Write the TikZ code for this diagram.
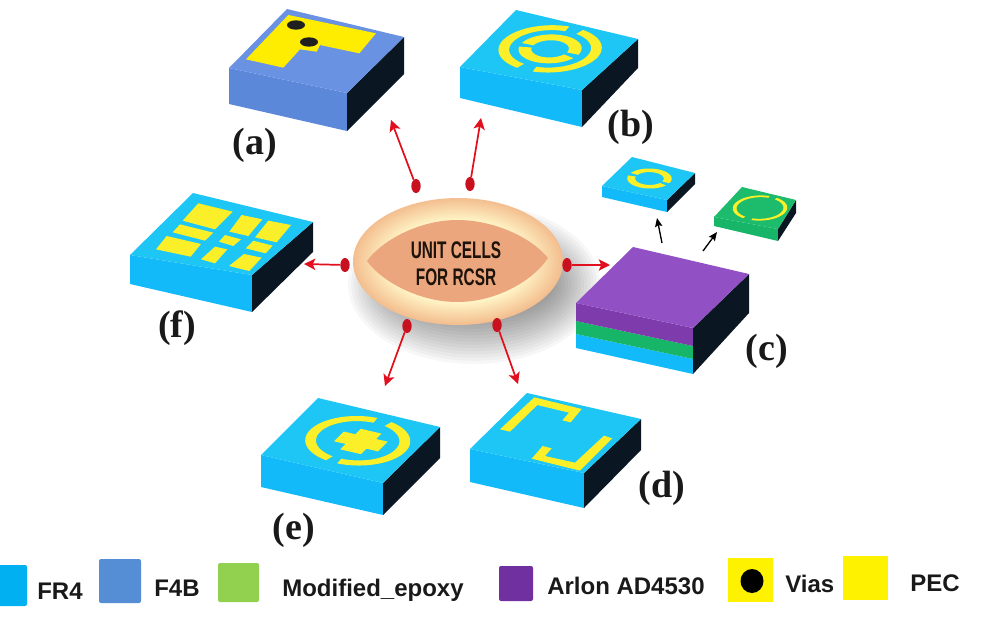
\documentclass[tikz,border=0pt]{standalone}
\usepackage{fontspec}
\setmainfont{Liberation Serif}
\setsansfont{Liberation Sans}
\usetikzlibrary{arrows.meta,shapes.geometric}
\definecolor{frtop}{HTML}{1EC6F5}
\definecolor{frfront}{HTML}{12BAFA}
\definecolor{fbtop}{HTML}{6A92E2}
\definecolor{fbfront}{HTML}{5C88DA}
\definecolor{sidedark}{HTML}{0A1722}
\definecolor{pec}{HTML}{FBEF2A}
\definecolor{purptop}{HTML}{9150C4}
\definecolor{purpfront}{HTML}{7E3BAB}
\definecolor{greentop}{HTML}{1DBB6C}
\definecolor{greenfront}{HTML}{16B568}
\definecolor{lens}{HTML}{EBA67E}
\definecolor{ringcream}{HTML}{FFF2C4}
\definecolor{ringedge}{HTML}{F3BF90}
\definecolor{redline}{HTML}{E2101E}
\definecolor{reddot}{HTML}{C8101E}
\definecolor{legfr}{HTML}{00B0F0}
\definecolor{legfb}{HTML}{558ED5}
\definecolor{leggr}{HTML}{92D050}
\definecolor{legpu}{HTML}{7030A0}
\tikzset{
  zs/.style 2 args={shift={(#1,#2)},x=.25pt,y=-.25pt},
  redarrow/.style={draw=redline,line width=1.3pt,-{Stealth[length=8.5pt,width=8.5pt,inset=2pt]}},
  blackarrow/.style={draw=black,line width=1pt,-{Stealth[length=6.5pt,width=5.5pt,inset=1pt]}},
  reddotv/.style={shape=ellipse,fill=reddot,inner sep=0pt,minimum width=7pt,minimum height=10.5pt},
  lbl/.style={font=\bfseries\fontsize{28.5}{30}\selectfont,inner sep=0pt,text=black!90},
  legtext/.style={font=\sffamily\bfseries\fontsize{18}{20}\selectfont,inner sep=0pt,anchor=base west,text=black!90},
  legbox/.style={rounded corners=1.5pt},
}
% top colour, front colour, then L F B R Lb Fb Rb as (x,y)
\newcommand{\cellbox}[9]{%
  \fill[#2] #3 -- #4 -- #8 -- #7 -- cycle;
  \fill[sidedark] #4 -- #6 -- #9 -- #8 -- cycle;
  \fill[#1] #3 -- #4 -- #6 -- #5 -- cycle;
}
% face frame: Lx Ly Fx Fy Bx By body
\newcommand{\facedraw}[7]{%
  \begin{scope}[shift={(#1,#2)},
     x={({(#3-#1)*.75pt},{-(#4-#2)*.75pt})},
     y={({(#5-#1)*.75pt},{-(#6-#2)*.75pt})}]
  #7
  \end{scope}}
\newcommand{\ringseg}[6]{%
  \fill[pec] plot[domain=#5:#6,samples=36] ({#1+#4*cos(\x)},{#2+#4*sin(\x)})
     -- plot[domain=#6:#5,samples=36] ({#1+#3*cos(\x)},{#2+#3*sin(\x)}) -- cycle;}
\begin{document}
\begin{tikzpicture}[x=.75pt,y=-.75pt]
\useasboundingbox (0,0) rectangle (1007,625);
% shadow of hub
\foreach \k in {0,...,15}{
  \fill[black,opacity=.033] (474,284) ellipse [x radius={126-3.2*\k},y radius={80-3.2*\k}];
}
% hub
\foreach \k in {0,...,16}{
  \pgfmathsetmacro{\mixv}{100-100*\k/16}
  \fill[ringedge!\mixv!ringcream] (458,261.5) ellipse [x radius={105-2*\k},y radius={63.5-1.3*\k}];
}
\fill[lens] (367,261) .. controls (382,240) and (420,220) .. (457,220)
   .. controls (495,220) and (532,238) .. (548,258)
   .. controls (532,282) and (495,302) .. (457,302)
   .. controls (420,302) and (382,282) .. (367,261) -- cycle;
\node[inner sep=0pt,text=black!85!brown] (hubA) at (456,250) {\scalebox{.64}[1]{\sffamily\bfseries\fontsize{18}{20}\selectfont UNIT CELLS}};
\node[inner sep=0pt,text=black!85!brown] (hubB) at (456,277) {\scalebox{.64}[1]{\sffamily\bfseries\fontsize{18}{20}\selectfont FOR RCSR}};

% (a)
\cellbox{fbtop}{fbfront}{(229,68)}{(347,93)}{(287,9)}{(404,37)}{(229,104)}{(347,131)}{(404,74)}
\begin{scope}[zs={220}{0}]
  \fill[yellow!95!orange] (205,45) -- (468,100) -- (418,160) -- (300,135) -- (290,155) -- (240,148) -- (190,203) -- (78,178) -- cycle;
  \fill[black!88] (228,75) ellipse [x radius=27,y radius=14];
  \fill[black!88] (267,126) ellipse [x radius=27,y radius=14];
\end{scope}
% (b)
\cellbox{frtop}{frfront}{(460,67)}{(582,90)}{(516,10)}{(638,39)}{(460,98)}{(582,127)}{(638,68)}
\facedraw{460}{67}{582}{90}{516}{10}{
  \ringseg{.5}{.52}{.305}{.385}{93}{255}
  \ringseg{.5}{.52}{.305}{.385}{275}{435}
  \ringseg{.5}{.52}{.14}{.235}{-2}{178}
  \ringseg{.5}{.52}{.14}{.235}{193}{342}
}
% (c) stack
\fill[frfront] (576,334) -- (693,359) -- (693,374) -- (576,348) -- cycle;
\fill[greenfront] (576,321) -- (693,346) -- (693,359) -- (576,334) -- cycle;
\fill[purpfront] (576,303) -- (693,328) -- (693,346) -- (576,321) -- cycle;
\fill[sidedark] (693,328) -- (749,274) -- (749,313) -- (693,374) -- cycle;
\fill[purptop] (576,303) -- (693,328) -- (749,274) -- (633,247) -- cycle;
% small exploded cells
\cellbox{frtop}{frfront}{(602,186)}{(667,200)}{(632,157)}{(695,173)}{(602,197)}{(667,212)}{(695,184)}
\facedraw{602}{186}{667}{200}{632}{157}{
  \ringseg{.5}{.5}{.2}{.31}{-2}{172}
  \ringseg{.5}{.5}{.2}{.31}{188}{342}
}
\cellbox{greentop}{greenfront}{(714,217)}{(778,229)}{(742,187)}{(796,200)}{(714,226)}{(778,241)}{(796,213)}
\facedraw{714}{217}{778}{229}{742}{187}{
  \ringseg{.5}{.5}{.335}{.39}{93}{255}
  \ringseg{.5}{.5}{.335}{.39}{275}{435}
}
% (d)
\cellbox{frtop}{frfront}{(470,449)}{(584,473)}{(527,393)}{(641,419)}{(470,482)}{(584,508)}{(641,450)}
\begin{scope}[zs={250}{380}]
  \fill[pec] (750,148) -- (853,52) -- (995,87) -- (962,127) -- (937,121) -- (957,98) -- (862,75) -- (780,155) -- cycle;
  \fill[pec] (1062,167) -- (1087,175) -- (990,272) -- (845,236) -- (878,198) -- (905,205) -- (885,228) -- (975,248) -- cycle;
\end{scope}
% (e)
\cellbox{frtop}{frfront}{(261,455)}{(383,483)}{(318,398)}{(440,427)}{(261,487)}{(383,515)}{(440,458)}
\facedraw{261}{455}{383}{483}{318}{398}{
  \ringseg{.55}{.52}{.31}{.39}{93}{258}
  \ringseg{.55}{.52}{.31}{.39}{272}{435}
  \fill[pec] (.49,.605) -- (.49,.70) -- (.66,.70) -- (.66,.605) -- (.755,.605) -- (.755,.435)
     -- (.66,.435) -- (.66,.34) -- (.49,.34) -- (.49,.435) -- (.395,.435) -- (.395,.605) -- cycle;
}
% (f)
\cellbox{frtop}{frfront}{(130,255)}{(252,275)}{(193,193)}{(313,222)}{(130,284)}{(252,312)}{(313,252)}
\begin{scope}[zs={120}{180}]
  \foreach \pts in {
    {(235,70) -- (338,95) -- (285,148) -- (188,122)},
    {(180,133) -- (280,158) -- (255,182) -- (158,157)},
    {(140,168) -- (243,192) -- (212,230) -- (108,208)},
    {(365,105) -- (427,118) -- (385,168) -- (328,155)},
    {(445,122) -- (513,135) -- (470,187) -- (405,172)},
    {(315,165) -- (363,178) -- (340,198) -- (297,185)},
    {(400,182) -- (458,197) -- (437,220) -- (377,205)},
    {(285,200) -- (322,208) -- (285,250) -- (243,238)},
    {(372,222) -- (425,233) -- (388,273) -- (327,258)}}{
    \fill[pec] \pts -- cycle;
  }
\end{scope}

% dots and connectors
\node[reddotv] (dotA) at (416,186) {};
\node[reddotv] (dotB) at (470,184) {};
\node[reddotv] (dotF) at (345,265) {};
\node[reddotv] (dotC) at (567,265) {};
\node[reddotv] (dotE) at (407,326) {};
\node[reddotv] (dotD) at (497,325) {};
\coordinate (tipA) at (391,120);
\coordinate (tipB) at (481,118);
\coordinate (tipF) at (304,264);
\coordinate (tipC) at (610,265);
\coordinate (tipE) at (385,386);
\coordinate (tipD) at (518,384);
\draw[redarrow] (dotA) -- (tipA);
\draw[redarrow] (dotB) -- (tipB);
\draw[redarrow] (dotF) -- (tipF);
\draw[redarrow] (dotC) -- (tipC);
\draw[redarrow] (dotE) -- (tipE);
\draw[redarrow] (dotD) -- (tipD);
\coordinate (blkAs) at (662,243);
\coordinate (blkAe) at (657,218);
\coordinate (blkBs) at (703,251);
\coordinate (blkBe) at (717,232);
\draw[blackarrow] (blkAs) -- (blkAe);
\draw[blackarrow] (blkBs) -- (blkBe);

% labels
\node[lbl] (la) at (255,145) {(a)};
\node[lbl] (lb) at (631,127) {(b)};
\node[lbl] (lc) at (767,351) {(c)};
\node[lbl] (ld) at (662,488) {(d)};
\node[lbl] (le) at (294,530) {(e)};
\node[lbl] (lf) at (177,328) {(f)};

% legend
\fill[legfr,legbox] (-6,565) rectangle (27,606);
\fill[legfb,legbox] (99,559) rectangle (141,603);
\fill[leggr,legbox] (218,563) rectangle (259,602);
\fill[legpu,legbox] (499,566) rectangle (533,601);
\fill[yellow] (728,558) rectangle (773,602);
\fill[black] (752,581) ellipse [x radius=11.5,y radius=12];
\fill[yellow] (843,556) rectangle (888,600);
\node[legtext] (t1) at (37,599) {FR4};
\node[legtext] (t2) at (154,596) {F4B};
\node[legtext] (t3) at (282,596) {Modified\_epoxy};
\node[legtext] (t4) at (547,594) {Arlon AD4530};
\node[legtext] (t5) at (785,592) {Vias};
\node[legtext] (t6) at (910,591) {PEC};
\end{tikzpicture}
\end{document}
